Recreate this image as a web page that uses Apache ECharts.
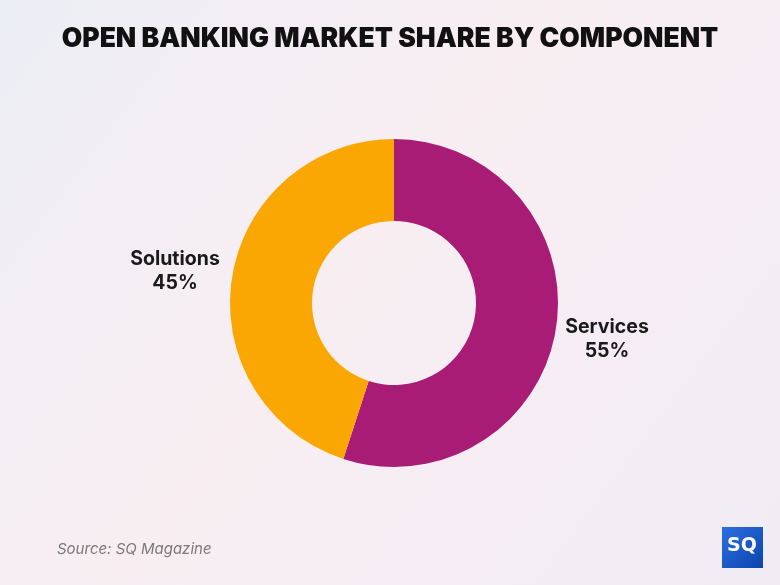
<!DOCTYPE html>
<html><head><meta charset="utf-8">
<script src="https://cdn.jsdelivr.net/npm/echarts@6/dist/echarts.min.js"></script>
<style>html,body{margin:0;padding:0;}#c{width:780px;height:585px;}</style>
</head><body><div id="c"></div>
<script>
const categories = ["Services", "Solutions"];
const values = [55, 45];
const colors = ["#A91C76", "#FBA703"];
const titleText = "OPEN BANKING MARKET SHARE BY COMPONENT";
const sourceText = "Source: SQ Magazine";

const chart = echarts.init(document.getElementById('c'));
const labelPos = [[607, 339], [175, 271]];
chart.setOption({
  backgroundColor: {
    type: 'linear', x: 0, y: 0, x2: 1, y2: 1,
    colorStops: [
      {offset: 0, color: '#ECEEF5'},
      {offset: 0.45, color: '#F8EEF2'},
      {offset: 1, color: '#F1ECF4'}
    ]
  },
  title: {
    text: titleText, left: 'center', top: 21,
    textStyle: {fontFamily: 'Inter', fontWeight: 900, fontSize: 26.5, color: '#111'}
  },
  graphic: [
    {type: 'text', left: 57, top: 542, style: {text: sourceText, font: 'italic 15px Inter', fill: '#7a7a7a'}},
    {type: 'rect', left: 722, top: 527, shape: {width: 41, height: 41},
     style: {fill: {type: 'linear', x: 0, y: 0, x2: 1, y2: 1, colorStops: [{offset: 0, color: '#2D6FE0'}, {offset: 1, color: '#0B45AE'}]}}},
    {type: 'text', left: 727, top: 537, style: {text: 'SQ', font: 'bold 19px "DejaVu Sans"', fill: '#fff'}}
  ],
  series: [{
    type: 'pie',
    center: [394, 303],
    radius: [82, 164],
    startAngle: 90,
    clockwise: true,
    silent: true,
    data: categories.map((c, i) => ({name: c, value: values[i], itemStyle: {color: colors[i]}})),
    label: {
      show: true, position: 'outside',
      formatter: '{b}\n{d}%',
      fontFamily: 'Inter', fontWeight: 700, fontSize: 19.5, lineHeight: 24, color: '#1a1a1a', align: 'center'
    },
    labelLine: {show: false},
    labelLayout: function (p) {
      const pos = labelPos[p.dataIndex];
      return {x: pos[0], y: pos[1], align: 'center', verticalAlign: 'middle'};
    }
  }]
});
</script></body></html>
